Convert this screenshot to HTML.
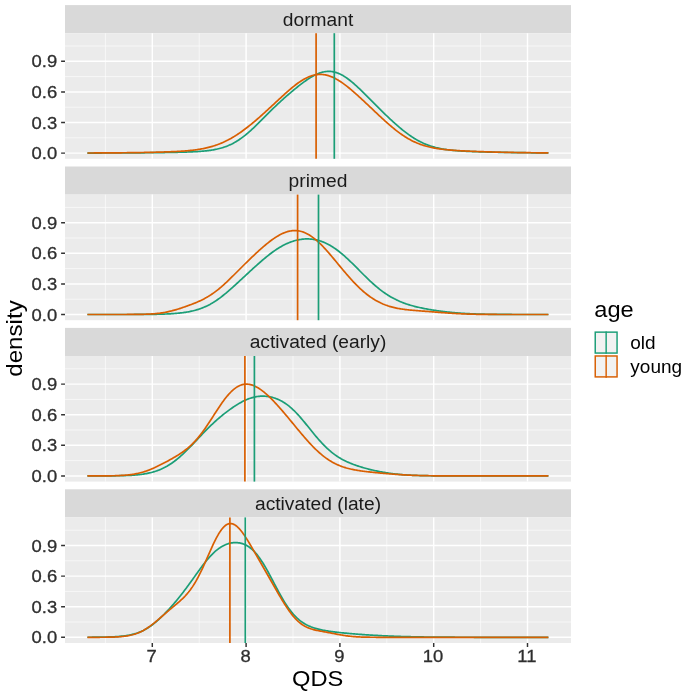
<!DOCTYPE html>
<html lang="en"><head><meta charset="utf-8"><title>QDS density</title>
<style>html,body{margin:0;padding:0;background:#fff}svg{display:block}text{font-family:"Liberation Sans",Arial,Helvetica,sans-serif}text{paint-order:stroke fill}.ax{fill:#2E2E2E;stroke:#2E2E2E;stroke-width:0.3px;font-size:17.3px}.st{fill:#1A1A1A;stroke:none;font-size:19px}.ti{fill:#000;stroke:none;font-size:22.3px}.lg{fill:#000;stroke:none;font-size:18.2px}</style></head><body>
<svg width="685" height="697" viewBox="0 0 685 697">
<rect x="0" y="0" width="685" height="697" fill="#FFFFFF"/>
<rect x="65.0" y="5.10" width="506.0" height="28.10" fill="#D9D9D9"/>
<text class="st" text-anchor="middle" transform="translate(318.00,25.50) scale(1.012,1)" >dormant</text>
<rect x="65.0" y="33.20" width="506.0" height="125.60" fill="#EBEBEB"/>
<path d="M105.40,33.20V158.80M199.20,33.20V158.80M293.00,33.20V158.80M386.80,33.20V158.80M480.60,33.20V158.80M65.0,137.80H571.0M65.0,107.20H571.0M65.0,76.60H571.0M65.0,46.00H571.0" stroke="#FFFFFF" stroke-width="0.6" fill="none"/>
<path d="M152.30,33.20V158.80M246.10,33.20V158.80M339.90,33.20V158.80M433.70,33.20V158.80M527.50,33.20V158.80M65.0,153.10H571.0M65.0,122.50H571.0M65.0,91.90H571.0M65.0,61.30H571.0" stroke="#FFFFFF" stroke-width="1.45" fill="none"/>
<path d="M87.4,153.06 L88.4,153.05 L89.4,153.05 L90.4,153.05 L91.4,153.05 L92.4,153.05 L93.4,153.04 L94.4,153.04 L95.4,153.04 L96.4,153.04 L97.4,153.04 L98.4,153.03 L99.4,153.03 L100.4,153.03 L101.4,153.03 L102.4,153.02 L103.4,153.02 L104.4,153.02 L105.4,153.01 L106.4,153.01 L107.4,153.01 L108.4,153.00 L109.4,153.00 L110.4,153.00 L111.4,152.99 L112.4,152.99 L113.4,152.98 L114.4,152.98 L115.4,152.98 L116.4,152.97 L117.4,152.97 L118.4,152.96 L119.4,152.96 L120.4,152.95 L121.4,152.95 L122.4,152.94 L123.4,152.94 L124.4,152.93 L125.4,152.93 L126.4,152.92 L127.4,152.91 L128.4,152.91 L129.4,152.90 L130.4,152.89 L131.4,152.89 L132.4,152.88 L133.4,152.87 L134.4,152.87 L135.4,152.86 L136.4,152.85 L137.4,152.84 L138.4,152.83 L139.4,152.83 L140.4,152.82 L141.4,152.81 L142.4,152.80 L143.4,152.79 L144.4,152.78 L145.4,152.77 L146.4,152.76 L147.4,152.75 L148.4,152.74 L149.4,152.73 L150.4,152.72 L151.4,152.71 L152.4,152.69 L153.4,152.68 L154.4,152.67 L155.4,152.66 L156.4,152.64 L157.4,152.63 L158.4,152.62 L159.4,152.60 L160.4,152.59 L161.4,152.57 L162.4,152.56 L163.4,152.54 L164.4,152.53 L165.4,152.51 L166.4,152.49 L167.4,152.48 L168.4,152.46 L169.4,152.44 L170.4,152.42 L171.4,152.40 L172.4,152.38 L173.4,152.36 L174.4,152.34 L175.4,152.32 L176.4,152.30 L177.4,152.28 L178.4,152.25 L179.4,152.23 L180.4,152.20 L181.4,152.18 L182.4,152.15 L183.4,152.12 L184.4,152.09 L185.4,152.06 L186.4,152.03 L187.4,151.99 L188.4,151.96 L189.4,151.92 L190.4,151.88 L191.4,151.84 L192.4,151.80 L193.4,151.75 L194.4,151.70 L195.4,151.65 L196.4,151.60 L197.4,151.54 L198.4,151.48 L199.4,151.41 L200.4,151.34 L201.4,151.26 L202.4,151.18 L203.4,151.10 L204.4,151.00 L205.4,150.90 L206.4,150.80 L207.4,150.69 L208.4,150.57 L209.4,150.44 L210.4,150.30 L211.4,150.15 L212.4,149.99 L213.4,149.82 L214.4,149.64 L215.4,149.45 L216.4,149.24 L217.4,149.02 L218.4,148.79 L219.4,148.54 L220.4,148.28 L221.4,148.00 L222.4,147.70 L223.4,147.39 L224.4,147.05 L225.4,146.70 L226.4,146.33 L227.4,145.94 L228.4,145.52 L229.4,145.09 L230.4,144.63 L231.4,144.16 L232.4,143.66 L233.4,143.13 L234.4,142.59 L235.4,142.02 L236.4,141.42 L237.4,140.81 L238.4,140.17 L239.4,139.50 L240.4,138.82 L241.4,138.11 L242.4,137.38 L243.4,136.62 L244.4,135.85 L245.4,135.05 L246.4,134.23 L247.4,133.40 L248.4,132.54 L249.4,131.67 L250.4,130.78 L251.4,129.87 L252.4,128.95 L253.4,128.02 L254.4,127.07 L255.4,126.12 L256.4,125.15 L257.4,124.17 L258.4,123.18 L259.4,122.19 L260.4,121.20 L261.4,120.19 L262.4,119.19 L263.4,118.18 L264.4,117.18 L265.4,116.17 L266.4,115.17 L267.4,114.16 L268.4,113.16 L269.4,112.17 L270.4,111.17 L271.4,110.19 L272.4,109.21 L273.4,108.23 L274.4,107.26 L275.4,106.30 L276.4,105.35 L277.4,104.40 L278.4,103.46 L279.4,102.53 L280.4,101.61 L281.4,100.69 L282.4,99.78 L283.4,98.88 L284.4,97.99 L285.4,97.10 L286.4,96.22 L287.4,95.35 L288.4,94.49 L289.4,93.63 L290.4,92.78 L291.4,91.93 L292.4,91.09 L293.4,90.26 L294.4,89.44 L295.4,88.62 L296.4,87.81 L297.4,87.01 L298.4,86.21 L299.4,85.43 L300.4,84.65 L301.4,83.89 L302.4,83.14 L303.4,82.39 L304.4,81.66 L305.4,80.95 L306.4,80.25 L307.4,79.57 L308.4,78.90 L309.4,78.25 L310.4,77.62 L311.4,77.02 L312.4,76.44 L313.4,75.88 L314.4,75.35 L315.4,74.84 L316.4,74.37 L317.4,73.92 L318.4,73.51 L319.4,73.12 L320.4,72.78 L321.4,72.47 L322.4,72.19 L323.4,71.96 L324.4,71.76 L325.4,71.60 L326.4,71.48 L327.4,71.41 L328.4,71.37 L329.4,71.38 L330.4,71.43 L331.4,71.52 L332.4,71.66 L333.4,71.83 L334.4,72.05 L335.4,72.32 L336.4,72.62 L337.4,72.97 L338.4,73.35 L339.4,73.78 L340.4,74.24 L341.4,74.74 L342.4,75.28 L343.4,75.86 L344.4,76.47 L345.4,77.11 L346.4,77.78 L347.4,78.48 L348.4,79.22 L349.4,79.98 L350.4,80.76 L351.4,81.57 L352.4,82.40 L353.4,83.25 L354.4,84.13 L355.4,85.02 L356.4,85.92 L357.4,86.85 L358.4,87.78 L359.4,88.73 L360.4,89.69 L361.4,90.66 L362.4,91.63 L363.4,92.62 L364.4,93.61 L365.4,94.60 L366.4,95.60 L367.4,96.61 L368.4,97.61 L369.4,98.62 L370.4,99.63 L371.4,100.64 L372.4,101.65 L373.4,102.66 L374.4,103.66 L375.4,104.67 L376.4,105.67 L377.4,106.67 L378.4,107.67 L379.4,108.66 L380.4,109.65 L381.4,110.64 L382.4,111.62 L383.4,112.60 L384.4,113.57 L385.4,114.54 L386.4,115.50 L387.4,116.45 L388.4,117.40 L389.4,118.34 L390.4,119.28 L391.4,120.21 L392.4,121.13 L393.4,122.04 L394.4,122.94 L395.4,123.84 L396.4,124.72 L397.4,125.60 L398.4,126.46 L399.4,127.31 L400.4,128.15 L401.4,128.98 L402.4,129.80 L403.4,130.60 L404.4,131.39 L405.4,132.16 L406.4,132.92 L407.4,133.67 L408.4,134.40 L409.4,135.11 L410.4,135.81 L411.4,136.49 L412.4,137.15 L413.4,137.79 L414.4,138.42 L415.4,139.03 L416.4,139.62 L417.4,140.19 L418.4,140.74 L419.4,141.28 L420.4,141.80 L421.4,142.29 L422.4,142.77 L423.4,143.24 L424.4,143.68 L425.4,144.11 L426.4,144.52 L427.4,144.91 L428.4,145.28 L429.4,145.64 L430.4,145.98 L431.4,146.31 L432.4,146.62 L433.4,146.91 L434.4,147.19 L435.4,147.46 L436.4,147.71 L437.4,147.95 L438.4,148.18 L439.4,148.40 L440.4,148.60 L441.4,148.79 L442.4,148.97 L443.4,149.15 L444.4,149.31 L445.4,149.46 L446.4,149.61 L447.4,149.74 L448.4,149.87 L449.4,149.99 L450.4,150.11 L451.4,150.22 L452.4,150.32 L453.4,150.42 L454.4,150.51 L455.4,150.59 L456.4,150.68 L457.4,150.75 L458.4,150.83 L459.4,150.90 L460.4,150.96 L461.4,151.03 L462.4,151.09 L463.4,151.14 L464.4,151.20 L465.4,151.25 L466.4,151.30 L467.4,151.35 L468.4,151.39 L469.4,151.44 L470.4,151.48 L471.4,151.52 L472.4,151.56 L473.4,151.60 L474.4,151.64 L475.4,151.67 L476.4,151.71 L477.4,151.74 L478.4,151.77 L479.4,151.81 L480.4,151.84 L481.4,151.87 L482.4,151.90 L483.4,151.93 L484.4,151.95 L485.4,151.98 L486.4,152.01 L487.4,152.03 L488.4,152.06 L489.4,152.09 L490.4,152.11 L491.4,152.13 L492.4,152.16 L493.4,152.18 L494.4,152.20 L495.4,152.23 L496.4,152.25 L497.4,152.27 L498.4,152.29 L499.4,152.31 L500.4,152.33 L501.4,152.35 L502.4,152.37 L503.4,152.39 L504.4,152.41 L505.4,152.42 L506.4,152.44 L507.4,152.46 L508.4,152.48 L509.4,152.49 L510.4,152.51 L511.4,152.53 L512.4,152.54 L513.4,152.56 L514.4,152.57 L515.4,152.59 L516.4,152.60 L517.4,152.61 L518.4,152.63 L519.4,152.64 L520.4,152.65 L521.4,152.67 L522.4,152.68 L523.4,152.69 L524.4,152.70 L525.4,152.71 L526.4,152.73 L527.4,152.74 L528.4,152.75 L529.4,152.76 L530.4,152.77 L531.4,152.78 L532.4,152.79 L533.4,152.80 L534.4,152.81 L535.4,152.81 L536.4,152.82 L537.4,152.83 L538.4,152.84 L539.4,152.85 L540.4,152.86 L541.4,152.86 L542.4,152.87 L543.4,152.88 L544.4,152.89 L545.4,152.89 L546.4,152.90 L547.4,152.91 L548.4,152.91" stroke="#1B9E77" stroke-width="1.7" fill="none" stroke-linejoin="round"/>
<path d="M87.4,153.00 L88.4,153.00 L89.4,152.99 L90.4,152.99 L91.4,152.98 L92.4,152.98 L93.4,152.98 L94.4,152.97 L95.4,152.97 L96.4,152.96 L97.4,152.96 L98.4,152.95 L99.4,152.95 L100.4,152.94 L101.4,152.94 L102.4,152.93 L103.4,152.92 L104.4,152.92 L105.4,152.91 L106.4,152.90 L107.4,152.90 L108.4,152.89 L109.4,152.88 L110.4,152.88 L111.4,152.87 L112.4,152.86 L113.4,152.85 L114.4,152.85 L115.4,152.84 L116.4,152.83 L117.4,152.82 L118.4,152.81 L119.4,152.80 L120.4,152.79 L121.4,152.78 L122.4,152.77 L123.4,152.76 L124.4,152.75 L125.4,152.74 L126.4,152.73 L127.4,152.71 L128.4,152.70 L129.4,152.69 L130.4,152.68 L131.4,152.66 L132.4,152.65 L133.4,152.64 L134.4,152.62 L135.4,152.61 L136.4,152.59 L137.4,152.58 L138.4,152.56 L139.4,152.55 L140.4,152.53 L141.4,152.51 L142.4,152.50 L143.4,152.48 L144.4,152.46 L145.4,152.44 L146.4,152.42 L147.4,152.40 L148.4,152.38 L149.4,152.36 L150.4,152.34 L151.4,152.32 L152.4,152.30 L153.4,152.28 L154.4,152.25 L155.4,152.23 L156.4,152.20 L157.4,152.18 L158.4,152.15 L159.4,152.12 L160.4,152.09 L161.4,152.07 L162.4,152.04 L163.4,152.00 L164.4,151.97 L165.4,151.94 L166.4,151.91 L167.4,151.87 L168.4,151.83 L169.4,151.79 L170.4,151.75 L171.4,151.71 L172.4,151.67 L173.4,151.63 L174.4,151.58 L175.4,151.53 L176.4,151.48 L177.4,151.43 L178.4,151.37 L179.4,151.31 L180.4,151.25 L181.4,151.19 L182.4,151.12 L183.4,151.05 L184.4,150.98 L185.4,150.90 L186.4,150.82 L187.4,150.73 L188.4,150.64 L189.4,150.55 L190.4,150.45 L191.4,150.34 L192.4,150.23 L193.4,150.11 L194.4,149.99 L195.4,149.86 L196.4,149.73 L197.4,149.58 L198.4,149.43 L199.4,149.27 L200.4,149.11 L201.4,148.93 L202.4,148.75 L203.4,148.56 L204.4,148.35 L205.4,148.14 L206.4,147.92 L207.4,147.68 L208.4,147.44 L209.4,147.18 L210.4,146.92 L211.4,146.64 L212.4,146.34 L213.4,146.04 L214.4,145.72 L215.4,145.39 L216.4,145.05 L217.4,144.69 L218.4,144.32 L219.4,143.93 L220.4,143.53 L221.4,143.12 L222.4,142.69 L223.4,142.24 L224.4,141.78 L225.4,141.31 L226.4,140.82 L227.4,140.31 L228.4,139.80 L229.4,139.26 L230.4,138.71 L231.4,138.15 L232.4,137.57 L233.4,136.98 L234.4,136.37 L235.4,135.74 L236.4,135.11 L237.4,134.46 L238.4,133.79 L239.4,133.12 L240.4,132.43 L241.4,131.72 L242.4,131.01 L243.4,130.28 L244.4,129.54 L245.4,128.79 L246.4,128.03 L247.4,127.26 L248.4,126.47 L249.4,125.68 L250.4,124.88 L251.4,124.07 L252.4,123.24 L253.4,122.41 L254.4,121.58 L255.4,120.73 L256.4,119.88 L257.4,119.01 L258.4,118.15 L259.4,117.27 L260.4,116.39 L261.4,115.50 L262.4,114.61 L263.4,113.71 L264.4,112.81 L265.4,111.90 L266.4,110.99 L267.4,110.08 L268.4,109.16 L269.4,108.24 L270.4,107.31 L271.4,106.38 L272.4,105.46 L273.4,104.53 L274.4,103.59 L275.4,102.66 L276.4,101.73 L277.4,100.80 L278.4,99.87 L279.4,98.94 L280.4,98.02 L281.4,97.10 L282.4,96.18 L283.4,95.27 L284.4,94.36 L285.4,93.46 L286.4,92.57 L287.4,91.68 L288.4,90.81 L289.4,89.94 L290.4,89.09 L291.4,88.25 L292.4,87.42 L293.4,86.61 L294.4,85.81 L295.4,85.03 L296.4,84.27 L297.4,83.53 L298.4,82.81 L299.4,82.11 L300.4,81.44 L301.4,80.79 L302.4,80.16 L303.4,79.56 L304.4,78.99 L305.4,78.45 L306.4,77.94 L307.4,77.46 L308.4,77.01 L309.4,76.59 L310.4,76.21 L311.4,75.87 L312.4,75.55 L313.4,75.28 L314.4,75.04 L315.4,74.84 L316.4,74.67 L317.4,74.54 L318.4,74.45 L319.4,74.40 L320.4,74.39 L321.4,74.42 L322.4,74.48 L323.4,74.58 L324.4,74.72 L325.4,74.90 L326.4,75.11 L327.4,75.36 L328.4,75.65 L329.4,75.97 L330.4,76.33 L331.4,76.71 L332.4,77.14 L333.4,77.59 L334.4,78.07 L335.4,78.59 L336.4,79.13 L337.4,79.70 L338.4,80.29 L339.4,80.92 L340.4,81.56 L341.4,82.23 L342.4,82.92 L343.4,83.63 L344.4,84.36 L345.4,85.11 L346.4,85.88 L347.4,86.67 L348.4,87.46 L349.4,88.28 L350.4,89.10 L351.4,89.94 L352.4,90.79 L353.4,91.66 L354.4,92.53 L355.4,93.41 L356.4,94.30 L357.4,95.19 L358.4,96.10 L359.4,97.01 L360.4,97.92 L361.4,98.84 L362.4,99.77 L363.4,100.70 L364.4,101.63 L365.4,102.57 L366.4,103.51 L367.4,104.45 L368.4,105.39 L369.4,106.34 L370.4,107.28 L371.4,108.23 L372.4,109.17 L373.4,110.12 L374.4,111.07 L375.4,112.01 L376.4,112.96 L377.4,113.90 L378.4,114.83 L379.4,115.77 L380.4,116.70 L381.4,117.63 L382.4,118.55 L383.4,119.47 L384.4,120.38 L385.4,121.28 L386.4,122.18 L387.4,123.06 L388.4,123.94 L389.4,124.81 L390.4,125.67 L391.4,126.52 L392.4,127.36 L393.4,128.18 L394.4,129.00 L395.4,129.80 L396.4,130.58 L397.4,131.35 L398.4,132.11 L399.4,132.85 L400.4,133.57 L401.4,134.28 L402.4,134.97 L403.4,135.65 L404.4,136.30 L405.4,136.94 L406.4,137.56 L407.4,138.16 L408.4,138.75 L409.4,139.31 L410.4,139.86 L411.4,140.39 L412.4,140.90 L413.4,141.39 L414.4,141.86 L415.4,142.32 L416.4,142.76 L417.4,143.18 L418.4,143.58 L419.4,143.97 L420.4,144.34 L421.4,144.69 L422.4,145.03 L423.4,145.36 L424.4,145.67 L425.4,145.96 L426.4,146.24 L427.4,146.51 L428.4,146.76 L429.4,147.00 L430.4,147.23 L431.4,147.45 L432.4,147.66 L433.4,147.85 L434.4,148.04 L435.4,148.22 L436.4,148.39 L437.4,148.55 L438.4,148.70 L439.4,148.85 L440.4,148.98 L441.4,149.11 L442.4,149.24 L443.4,149.36 L444.4,149.47 L445.4,149.57 L446.4,149.68 L447.4,149.77 L448.4,149.87 L449.4,149.96 L450.4,150.04 L451.4,150.12 L452.4,150.20 L453.4,150.28 L454.4,150.35 L455.4,150.42 L456.4,150.49 L457.4,150.55 L458.4,150.61 L459.4,150.67 L460.4,150.73 L461.4,150.79 L462.4,150.84 L463.4,150.90 L464.4,150.95 L465.4,151.00 L466.4,151.05 L467.4,151.09 L468.4,151.14 L469.4,151.19 L470.4,151.23 L471.4,151.27 L472.4,151.32 L473.4,151.36 L474.4,151.40 L475.4,151.44 L476.4,151.48 L477.4,151.51 L478.4,151.55 L479.4,151.59 L480.4,151.62 L481.4,151.66 L482.4,151.69 L483.4,151.72 L484.4,151.76 L485.4,151.79 L486.4,151.82 L487.4,151.85 L488.4,151.88 L489.4,151.91 L490.4,151.94 L491.4,151.97 L492.4,152.00 L493.4,152.03 L494.4,152.05 L495.4,152.08 L496.4,152.10 L497.4,152.13 L498.4,152.15 L499.4,152.18 L500.4,152.20 L501.4,152.23 L502.4,152.25 L503.4,152.27 L504.4,152.29 L505.4,152.31 L506.4,152.34 L507.4,152.36 L508.4,152.38 L509.4,152.40 L510.4,152.42 L511.4,152.43 L512.4,152.45 L513.4,152.47 L514.4,152.49 L515.4,152.51 L516.4,152.52 L517.4,152.54 L518.4,152.55 L519.4,152.57 L520.4,152.59 L521.4,152.60 L522.4,152.61 L523.4,152.63 L524.4,152.64 L525.4,152.66 L526.4,152.67 L527.4,152.68 L528.4,152.69 L529.4,152.71 L530.4,152.72 L531.4,152.73 L532.4,152.74 L533.4,152.75 L534.4,152.76 L535.4,152.77 L536.4,152.78 L537.4,152.79 L538.4,152.80 L539.4,152.81 L540.4,152.82 L541.4,152.83 L542.4,152.84 L543.4,152.85 L544.4,152.86 L545.4,152.86 L546.4,152.87 L547.4,152.88 L548.4,152.89" stroke="#D95F02" stroke-width="1.7" fill="none" stroke-linejoin="round"/>
<path d="M334.30,33.20V158.80" stroke="#1B9E77" stroke-width="1.7" fill="none"/>
<path d="M316.10,33.20V158.80" stroke="#D95F02" stroke-width="1.7" fill="none"/>
<text class="ax" text-anchor="end" transform="translate(57.20,159.15) scale(1.065,1)" >0.0</text>
<text class="ax" text-anchor="end" transform="translate(57.20,128.55) scale(1.065,1)" >0.3</text>
<text class="ax" text-anchor="end" transform="translate(57.20,97.95) scale(1.065,1)" >0.6</text>
<text class="ax" text-anchor="end" transform="translate(57.20,67.35) scale(1.065,1)" >0.9</text>
<path d="M61.10,153.10H65.0M61.10,122.50H65.0M61.10,91.90H65.0M61.10,61.30H65.0" stroke="#333333" stroke-width="1.45" fill="none"/>
<rect x="65.0" y="166.50" width="506.0" height="28.10" fill="#D9D9D9"/>
<text class="st" text-anchor="middle" transform="translate(318.00,186.90) scale(1.012,1)" >primed</text>
<rect x="65.0" y="194.60" width="506.0" height="125.60" fill="#EBEBEB"/>
<path d="M105.40,194.60V320.20M199.20,194.60V320.20M293.00,194.60V320.20M386.80,194.60V320.20M480.60,194.60V320.20M65.0,299.20H571.0M65.0,268.60H571.0M65.0,238.00H571.0M65.0,207.40H571.0" stroke="#FFFFFF" stroke-width="0.6" fill="none"/>
<path d="M152.30,194.60V320.20M246.10,194.60V320.20M339.90,194.60V320.20M433.70,194.60V320.20M527.50,194.60V320.20M65.0,314.50H571.0M65.0,283.90H571.0M65.0,253.30H571.0M65.0,222.70H571.0" stroke="#FFFFFF" stroke-width="1.45" fill="none"/>
<path d="M87.4,314.50 L88.4,314.50 L89.4,314.50 L90.4,314.50 L91.4,314.50 L92.4,314.50 L93.4,314.50 L94.4,314.50 L95.4,314.50 L96.4,314.50 L97.4,314.50 L98.4,314.50 L99.4,314.50 L100.4,314.50 L101.4,314.50 L102.4,314.50 L103.4,314.50 L104.4,314.50 L105.4,314.50 L106.4,314.50 L107.4,314.50 L108.4,314.50 L109.4,314.50 L110.4,314.50 L111.4,314.50 L112.4,314.50 L113.4,314.50 L114.4,314.50 L115.4,314.50 L116.4,314.50 L117.4,314.50 L118.4,314.50 L119.4,314.50 L120.4,314.49 L121.4,314.49 L122.4,314.49 L123.4,314.49 L124.4,314.49 L125.4,314.49 L126.4,314.49 L127.4,314.49 L128.4,314.49 L129.4,314.48 L130.4,314.48 L131.4,314.48 L132.4,314.48 L133.4,314.48 L134.4,314.47 L135.4,314.47 L136.4,314.47 L137.4,314.46 L138.4,314.46 L139.4,314.46 L140.4,314.45 L141.4,314.45 L142.4,314.44 L143.4,314.44 L144.4,314.43 L145.4,314.42 L146.4,314.41 L147.4,314.40 L148.4,314.39 L149.4,314.38 L150.4,314.37 L151.4,314.36 L152.4,314.35 L153.4,314.33 L154.4,314.32 L155.4,314.30 L156.4,314.28 L157.4,314.26 L158.4,314.24 L159.4,314.21 L160.4,314.19 L161.4,314.16 L162.4,314.13 L163.4,314.10 L164.4,314.06 L165.4,314.02 L166.4,313.98 L167.4,313.94 L168.4,313.89 L169.4,313.84 L170.4,313.78 L171.4,313.72 L172.4,313.66 L173.4,313.59 L174.4,313.52 L175.4,313.44 L176.4,313.36 L177.4,313.27 L178.4,313.17 L179.4,313.07 L180.4,312.96 L181.4,312.84 L182.4,312.72 L183.4,312.59 L184.4,312.45 L185.4,312.30 L186.4,312.14 L187.4,311.97 L188.4,311.79 L189.4,311.61 L190.4,311.40 L191.4,311.19 L192.4,310.97 L193.4,310.73 L194.4,310.47 L195.4,310.21 L196.4,309.93 L197.4,309.63 L198.4,309.32 L199.4,308.99 L200.4,308.64 L201.4,308.28 L202.4,307.89 L203.4,307.49 L204.4,307.07 L205.4,306.63 L206.4,306.17 L207.4,305.69 L208.4,305.19 L209.4,304.67 L210.4,304.13 L211.4,303.56 L212.4,302.98 L213.4,302.37 L214.4,301.75 L215.4,301.10 L216.4,300.43 L217.4,299.75 L218.4,299.04 L219.4,298.32 L220.4,297.57 L221.4,296.81 L222.4,296.04 L223.4,295.24 L224.4,294.44 L225.4,293.61 L226.4,292.78 L227.4,291.93 L228.4,291.08 L229.4,290.21 L230.4,289.33 L231.4,288.44 L232.4,287.55 L233.4,286.65 L234.4,285.75 L235.4,284.84 L236.4,283.92 L237.4,283.00 L238.4,282.08 L239.4,281.16 L240.4,280.23 L241.4,279.31 L242.4,278.38 L243.4,277.45 L244.4,276.52 L245.4,275.60 L246.4,274.67 L247.4,273.75 L248.4,272.82 L249.4,271.90 L250.4,270.98 L251.4,270.06 L252.4,269.15 L253.4,268.24 L254.4,267.33 L255.4,266.43 L256.4,265.53 L257.4,264.63 L258.4,263.75 L259.4,262.86 L260.4,261.99 L261.4,261.12 L262.4,260.26 L263.4,259.41 L264.4,258.57 L265.4,257.74 L266.4,256.92 L267.4,256.11 L268.4,255.31 L269.4,254.53 L270.4,253.76 L271.4,253.01 L272.4,252.27 L273.4,251.55 L274.4,250.84 L275.4,250.15 L276.4,249.48 L277.4,248.82 L278.4,248.19 L279.4,247.57 L280.4,246.98 L281.4,246.40 L282.4,245.84 L283.4,245.30 L284.4,244.79 L285.4,244.29 L286.4,243.82 L287.4,243.37 L288.4,242.93 L289.4,242.52 L290.4,242.14 L291.4,241.77 L292.4,241.43 L293.4,241.10 L294.4,240.80 L295.4,240.52 L296.4,240.27 L297.4,240.03 L298.4,239.82 L299.4,239.63 L300.4,239.47 L301.4,239.32 L302.4,239.20 L303.4,239.10 L304.4,239.02 L305.4,238.97 L306.4,238.94 L307.4,238.93 L308.4,238.95 L309.4,238.99 L310.4,239.05 L311.4,239.14 L312.4,239.25 L313.4,239.39 L314.4,239.55 L315.4,239.74 L316.4,239.95 L317.4,240.18 L318.4,240.44 L319.4,240.73 L320.4,241.04 L321.4,241.38 L322.4,241.74 L323.4,242.13 L324.4,242.54 L325.4,242.98 L326.4,243.45 L327.4,243.94 L328.4,244.46 L329.4,245.00 L330.4,245.57 L331.4,246.16 L332.4,246.78 L333.4,247.42 L334.4,248.09 L335.4,248.78 L336.4,249.49 L337.4,250.23 L338.4,250.99 L339.4,251.77 L340.4,252.57 L341.4,253.39 L342.4,254.23 L343.4,255.08 L344.4,255.96 L345.4,256.85 L346.4,257.76 L347.4,258.68 L348.4,259.62 L349.4,260.57 L350.4,261.53 L351.4,262.50 L352.4,263.48 L353.4,264.46 L354.4,265.46 L355.4,266.45 L356.4,267.46 L357.4,268.46 L358.4,269.47 L359.4,270.48 L360.4,271.48 L361.4,272.49 L362.4,273.49 L363.4,274.49 L364.4,275.48 L365.4,276.47 L366.4,277.45 L367.4,278.42 L368.4,279.38 L369.4,280.32 L370.4,281.26 L371.4,282.19 L372.4,283.10 L373.4,284.00 L374.4,284.88 L375.4,285.75 L376.4,286.60 L377.4,287.44 L378.4,288.25 L379.4,289.05 L380.4,289.84 L381.4,290.60 L382.4,291.35 L383.4,292.08 L384.4,292.79 L385.4,293.48 L386.4,294.15 L387.4,294.80 L388.4,295.44 L389.4,296.05 L390.4,296.65 L391.4,297.23 L392.4,297.79 L393.4,298.33 L394.4,298.86 L395.4,299.36 L396.4,299.86 L397.4,300.33 L398.4,300.79 L399.4,301.23 L400.4,301.66 L401.4,302.07 L402.4,302.47 L403.4,302.86 L404.4,303.23 L405.4,303.59 L406.4,303.93 L407.4,304.27 L408.4,304.59 L409.4,304.90 L410.4,305.20 L411.4,305.49 L412.4,305.78 L413.4,306.05 L414.4,306.31 L415.4,306.57 L416.4,306.82 L417.4,307.06 L418.4,307.29 L419.4,307.52 L420.4,307.74 L421.4,307.95 L422.4,308.16 L423.4,308.36 L424.4,308.56 L425.4,308.75 L426.4,308.94 L427.4,309.12 L428.4,309.30 L429.4,309.48 L430.4,309.65 L431.4,309.81 L432.4,309.97 L433.4,310.13 L434.4,310.29 L435.4,310.44 L436.4,310.58 L437.4,310.73 L438.4,310.87 L439.4,311.01 L440.4,311.14 L441.4,311.27 L442.4,311.40 L443.4,311.52 L444.4,311.64 L445.4,311.76 L446.4,311.88 L447.4,311.99 L448.4,312.10 L449.4,312.20 L450.4,312.30 L451.4,312.40 L452.4,312.50 L453.4,312.59 L454.4,312.68 L455.4,312.77 L456.4,312.86 L457.4,312.94 L458.4,313.02 L459.4,313.09 L460.4,313.17 L461.4,313.24 L462.4,313.30 L463.4,313.37 L464.4,313.43 L465.4,313.49 L466.4,313.55 L467.4,313.60 L468.4,313.66 L469.4,313.71 L470.4,313.75 L471.4,313.80 L472.4,313.84 L473.4,313.88 L474.4,313.92 L475.4,313.96 L476.4,314.00 L477.4,314.03 L478.4,314.06 L479.4,314.09 L480.4,314.12 L481.4,314.14 L482.4,314.17 L483.4,314.19 L484.4,314.22 L485.4,314.24 L486.4,314.26 L487.4,314.27 L488.4,314.29 L489.4,314.31 L490.4,314.32 L491.4,314.34 L492.4,314.35 L493.4,314.36 L494.4,314.37 L495.4,314.38 L496.4,314.39 L497.4,314.40 L498.4,314.41 L499.4,314.42 L500.4,314.42 L501.4,314.43 L502.4,314.44 L503.4,314.44 L504.4,314.45 L505.4,314.45 L506.4,314.46 L507.4,314.46 L508.4,314.46 L509.4,314.47 L510.4,314.47 L511.4,314.47 L512.4,314.48 L513.4,314.48 L514.4,314.48 L515.4,314.48 L516.4,314.48 L517.4,314.49 L518.4,314.49 L519.4,314.49 L520.4,314.49 L521.4,314.49 L522.4,314.49 L523.4,314.49 L524.4,314.49 L525.4,314.49 L526.4,314.49 L527.4,314.50 L528.4,314.50 L529.4,314.50 L530.4,314.50 L531.4,314.50 L532.4,314.50 L533.4,314.50 L534.4,314.50 L535.4,314.50 L536.4,314.50 L537.4,314.50 L538.4,314.50 L539.4,314.50 L540.4,314.50 L541.4,314.50 L542.4,314.50 L543.4,314.50 L544.4,314.50 L545.4,314.50 L546.4,314.50 L547.4,314.50 L548.4,314.50" stroke="#1B9E77" stroke-width="1.7" fill="none" stroke-linejoin="round"/>
<path d="M87.4,314.50 L88.4,314.50 L89.4,314.50 L90.4,314.50 L91.4,314.50 L92.4,314.50 L93.4,314.50 L94.4,314.50 L95.4,314.50 L96.4,314.50 L97.4,314.50 L98.4,314.50 L99.4,314.50 L100.4,314.50 L101.4,314.50 L102.4,314.50 L103.4,314.50 L104.4,314.50 L105.4,314.50 L106.4,314.50 L107.4,314.50 L108.4,314.50 L109.4,314.50 L110.4,314.50 L111.4,314.50 L112.4,314.50 L113.4,314.50 L114.4,314.49 L115.4,314.49 L116.4,314.49 L117.4,314.49 L118.4,314.49 L119.4,314.49 L120.4,314.49 L121.4,314.49 L122.4,314.49 L123.4,314.48 L124.4,314.48 L125.4,314.48 L126.4,314.48 L127.4,314.47 L128.4,314.47 L129.4,314.47 L130.4,314.46 L131.4,314.46 L132.4,314.45 L133.4,314.44 L134.4,314.44 L135.4,314.43 L136.4,314.42 L137.4,314.41 L138.4,314.39 L139.4,314.38 L140.4,314.36 L141.4,314.34 L142.4,314.32 L143.4,314.30 L144.4,314.27 L145.4,314.24 L146.4,314.20 L147.4,314.17 L148.4,314.12 L149.4,314.07 L150.4,314.02 L151.4,313.96 L152.4,313.90 L153.4,313.83 L154.4,313.75 L155.4,313.66 L156.4,313.56 L157.4,313.46 L158.4,313.35 L159.4,313.23 L160.4,313.10 L161.4,312.95 L162.4,312.80 L163.4,312.64 L164.4,312.47 L165.4,312.28 L166.4,312.09 L167.4,311.88 L168.4,311.67 L169.4,311.44 L170.4,311.20 L171.4,310.95 L172.4,310.69 L173.4,310.43 L174.4,310.15 L175.4,309.86 L176.4,309.57 L177.4,309.27 L178.4,308.96 L179.4,308.64 L180.4,308.32 L181.4,307.99 L182.4,307.65 L183.4,307.31 L184.4,306.97 L185.4,306.62 L186.4,306.26 L187.4,305.90 L188.4,305.54 L189.4,305.17 L190.4,304.80 L191.4,304.42 L192.4,304.03 L193.4,303.64 L194.4,303.24 L195.4,302.84 L196.4,302.42 L197.4,302.00 L198.4,301.56 L199.4,301.11 L200.4,300.65 L201.4,300.18 L202.4,299.69 L203.4,299.18 L204.4,298.66 L205.4,298.12 L206.4,297.57 L207.4,296.99 L208.4,296.39 L209.4,295.78 L210.4,295.14 L211.4,294.48 L212.4,293.80 L213.4,293.10 L214.4,292.38 L215.4,291.64 L216.4,290.88 L217.4,290.10 L218.4,289.29 L219.4,288.47 L220.4,287.63 L221.4,286.78 L222.4,285.90 L223.4,285.01 L224.4,284.11 L225.4,283.19 L226.4,282.26 L227.4,281.32 L228.4,280.37 L229.4,279.41 L230.4,278.44 L231.4,277.46 L232.4,276.48 L233.4,275.49 L234.4,274.50 L235.4,273.51 L236.4,272.51 L237.4,271.51 L238.4,270.51 L239.4,269.50 L240.4,268.50 L241.4,267.50 L242.4,266.50 L243.4,265.51 L244.4,264.51 L245.4,263.52 L246.4,262.54 L247.4,261.55 L248.4,260.58 L249.4,259.60 L250.4,258.63 L251.4,257.67 L252.4,256.71 L253.4,255.76 L254.4,254.82 L255.4,253.88 L256.4,252.95 L257.4,252.03 L258.4,251.11 L259.4,250.21 L260.4,249.31 L261.4,248.43 L262.4,247.55 L263.4,246.69 L264.4,245.83 L265.4,245.00 L266.4,244.17 L267.4,243.36 L268.4,242.56 L269.4,241.78 L270.4,241.02 L271.4,240.27 L272.4,239.55 L273.4,238.84 L274.4,238.15 L275.4,237.49 L276.4,236.85 L277.4,236.24 L278.4,235.65 L279.4,235.08 L280.4,234.55 L281.4,234.04 L282.4,233.57 L283.4,233.12 L284.4,232.71 L285.4,232.33 L286.4,231.99 L287.4,231.68 L288.4,231.41 L289.4,231.17 L290.4,230.98 L291.4,230.82 L292.4,230.70 L293.4,230.62 L294.4,230.59 L295.4,230.59 L296.4,230.64 L297.4,230.73 L298.4,230.86 L299.4,231.03 L300.4,231.25 L301.4,231.51 L302.4,231.81 L303.4,232.15 L304.4,232.54 L305.4,232.97 L306.4,233.44 L307.4,233.95 L308.4,234.50 L309.4,235.09 L310.4,235.72 L311.4,236.39 L312.4,237.10 L313.4,237.84 L314.4,238.62 L315.4,239.43 L316.4,240.27 L317.4,241.15 L318.4,242.06 L319.4,243.00 L320.4,243.96 L321.4,244.95 L322.4,245.97 L323.4,247.01 L324.4,248.07 L325.4,249.16 L326.4,250.26 L327.4,251.38 L328.4,252.52 L329.4,253.67 L330.4,254.83 L331.4,256.01 L332.4,257.20 L333.4,258.39 L334.4,259.59 L335.4,260.80 L336.4,262.01 L337.4,263.22 L338.4,264.43 L339.4,265.64 L340.4,266.85 L341.4,268.06 L342.4,269.26 L343.4,270.46 L344.4,271.64 L345.4,272.82 L346.4,273.99 L347.4,275.15 L348.4,276.30 L349.4,277.43 L350.4,278.55 L351.4,279.66 L352.4,280.75 L353.4,281.82 L354.4,282.88 L355.4,283.92 L356.4,284.94 L357.4,285.94 L358.4,286.92 L359.4,287.88 L360.4,288.81 L361.4,289.73 L362.4,290.63 L363.4,291.50 L364.4,292.35 L365.4,293.18 L366.4,293.98 L367.4,294.76 L368.4,295.52 L369.4,296.25 L370.4,296.97 L371.4,297.65 L372.4,298.32 L373.4,298.96 L374.4,299.58 L375.4,300.18 L376.4,300.75 L377.4,301.30 L378.4,301.83 L379.4,302.34 L380.4,302.83 L381.4,303.30 L382.4,303.74 L383.4,304.17 L384.4,304.57 L385.4,304.96 L386.4,305.32 L387.4,305.67 L388.4,306.01 L389.4,306.32 L390.4,306.62 L391.4,306.90 L392.4,307.17 L393.4,307.42 L394.4,307.66 L395.4,307.88 L396.4,308.10 L397.4,308.30 L398.4,308.48 L399.4,308.66 L400.4,308.83 L401.4,308.99 L402.4,309.14 L403.4,309.28 L404.4,309.41 L405.4,309.54 L406.4,309.66 L407.4,309.77 L408.4,309.88 L409.4,309.98 L410.4,310.08 L411.4,310.17 L412.4,310.26 L413.4,310.35 L414.4,310.44 L415.4,310.52 L416.4,310.60 L417.4,310.68 L418.4,310.76 L419.4,310.84 L420.4,310.91 L421.4,310.99 L422.4,311.07 L423.4,311.14 L424.4,311.22 L425.4,311.29 L426.4,311.37 L427.4,311.45 L428.4,311.52 L429.4,311.60 L430.4,311.68 L431.4,311.75 L432.4,311.83 L433.4,311.91 L434.4,311.99 L435.4,312.07 L436.4,312.15 L437.4,312.22 L438.4,312.30 L439.4,312.38 L440.4,312.46 L441.4,312.54 L442.4,312.61 L443.4,312.69 L444.4,312.76 L445.4,312.84 L446.4,312.91 L447.4,312.98 L448.4,313.05 L449.4,313.12 L450.4,313.19 L451.4,313.25 L452.4,313.32 L453.4,313.38 L454.4,313.44 L455.4,313.50 L456.4,313.56 L457.4,313.61 L458.4,313.66 L459.4,313.71 L460.4,313.76 L461.4,313.81 L462.4,313.85 L463.4,313.90 L464.4,313.94 L465.4,313.98 L466.4,314.01 L467.4,314.05 L468.4,314.08 L469.4,314.11 L470.4,314.14 L471.4,314.17 L472.4,314.19 L473.4,314.22 L474.4,314.24 L475.4,314.26 L476.4,314.28 L477.4,314.30 L478.4,314.32 L479.4,314.33 L480.4,314.35 L481.4,314.36 L482.4,314.37 L483.4,314.39 L484.4,314.40 L485.4,314.41 L486.4,314.42 L487.4,314.42 L488.4,314.43 L489.4,314.44 L490.4,314.44 L491.4,314.45 L492.4,314.46 L493.4,314.46 L494.4,314.46 L495.4,314.47 L496.4,314.47 L497.4,314.48 L498.4,314.48 L499.4,314.48 L500.4,314.48 L501.4,314.48 L502.4,314.49 L503.4,314.49 L504.4,314.49 L505.4,314.49 L506.4,314.49 L507.4,314.49 L508.4,314.49 L509.4,314.49 L510.4,314.50 L511.4,314.50 L512.4,314.50 L513.4,314.50 L514.4,314.50 L515.4,314.50 L516.4,314.50 L517.4,314.50 L518.4,314.50 L519.4,314.50 L520.4,314.50 L521.4,314.50 L522.4,314.50 L523.4,314.50 L524.4,314.50 L525.4,314.50 L526.4,314.50 L527.4,314.50 L528.4,314.50 L529.4,314.50 L530.4,314.50 L531.4,314.50 L532.4,314.50 L533.4,314.50 L534.4,314.50 L535.4,314.50 L536.4,314.50 L537.4,314.50 L538.4,314.50 L539.4,314.50 L540.4,314.50 L541.4,314.50 L542.4,314.50 L543.4,314.50 L544.4,314.50 L545.4,314.50 L546.4,314.50 L547.4,314.50 L548.4,314.50" stroke="#D95F02" stroke-width="1.7" fill="none" stroke-linejoin="round"/>
<path d="M318.50,194.60V320.20" stroke="#1B9E77" stroke-width="1.7" fill="none"/>
<path d="M297.60,194.60V320.20" stroke="#D95F02" stroke-width="1.7" fill="none"/>
<text class="ax" text-anchor="end" transform="translate(57.20,320.55) scale(1.065,1)" >0.0</text>
<text class="ax" text-anchor="end" transform="translate(57.20,289.95) scale(1.065,1)" >0.3</text>
<text class="ax" text-anchor="end" transform="translate(57.20,259.35) scale(1.065,1)" >0.6</text>
<text class="ax" text-anchor="end" transform="translate(57.20,228.75) scale(1.065,1)" >0.9</text>
<path d="M61.10,314.50H65.0M61.10,283.90H65.0M61.10,253.30H65.0M61.10,222.70H65.0" stroke="#333333" stroke-width="1.45" fill="none"/>
<rect x="65.0" y="327.90" width="506.0" height="28.10" fill="#D9D9D9"/>
<text class="st" text-anchor="middle" transform="translate(318.00,348.30) scale(1.012,1)" >activated (early)</text>
<rect x="65.0" y="356.00" width="506.0" height="125.60" fill="#EBEBEB"/>
<path d="M105.40,356.00V481.60M199.20,356.00V481.60M293.00,356.00V481.60M386.80,356.00V481.60M480.60,356.00V481.60M65.0,460.60H571.0M65.0,430.00H571.0M65.0,399.40H571.0M65.0,368.80H571.0" stroke="#FFFFFF" stroke-width="0.6" fill="none"/>
<path d="M152.30,356.00V481.60M246.10,356.00V481.60M339.90,356.00V481.60M433.70,356.00V481.60M527.50,356.00V481.60M65.0,475.90H571.0M65.0,445.30H571.0M65.0,414.70H571.0M65.0,384.10H571.0" stroke="#FFFFFF" stroke-width="1.45" fill="none"/>
<path d="M87.4,475.90 L88.4,475.90 L89.4,475.90 L90.4,475.89 L91.4,475.89 L92.4,475.89 L93.4,475.89 L94.4,475.89 L95.4,475.89 L96.4,475.89 L97.4,475.89 L98.4,475.88 L99.4,475.88 L100.4,475.88 L101.4,475.88 L102.4,475.87 L103.4,475.87 L104.4,475.87 L105.4,475.86 L106.4,475.86 L107.4,475.85 L108.4,475.85 L109.4,475.84 L110.4,475.83 L111.4,475.82 L112.4,475.82 L113.4,475.81 L114.4,475.79 L115.4,475.78 L116.4,475.77 L117.4,475.75 L118.4,475.73 L119.4,475.72 L120.4,475.70 L121.4,475.67 L122.4,475.65 L123.4,475.62 L124.4,475.59 L125.4,475.55 L126.4,475.52 L127.4,475.48 L128.4,475.43 L129.4,475.39 L130.4,475.33 L131.4,475.28 L132.4,475.21 L133.4,475.15 L134.4,475.07 L135.4,474.99 L136.4,474.91 L137.4,474.81 L138.4,474.71 L139.4,474.60 L140.4,474.49 L141.4,474.36 L142.4,474.22 L143.4,474.08 L144.4,473.92 L145.4,473.75 L146.4,473.57 L147.4,473.38 L148.4,473.17 L149.4,472.95 L150.4,472.72 L151.4,472.47 L152.4,472.20 L153.4,471.92 L154.4,471.62 L155.4,471.31 L156.4,470.97 L157.4,470.62 L158.4,470.25 L159.4,469.86 L160.4,469.44 L161.4,469.01 L162.4,468.55 L163.4,468.08 L164.4,467.57 L165.4,467.05 L166.4,466.50 L167.4,465.94 L168.4,465.34 L169.4,464.72 L170.4,464.08 L171.4,463.42 L172.4,462.73 L173.4,462.01 L174.4,461.28 L175.4,460.51 L176.4,459.73 L177.4,458.92 L178.4,458.09 L179.4,457.24 L180.4,456.37 L181.4,455.48 L182.4,454.57 L183.4,453.64 L184.4,452.69 L185.4,451.72 L186.4,450.74 L187.4,449.75 L188.4,448.74 L189.4,447.72 L190.4,446.69 L191.4,445.65 L192.4,444.60 L193.4,443.55 L194.4,442.49 L195.4,441.43 L196.4,440.36 L197.4,439.30 L198.4,438.23 L199.4,437.17 L200.4,436.11 L201.4,435.05 L202.4,434.00 L203.4,432.96 L204.4,431.92 L205.4,430.90 L206.4,429.88 L207.4,428.87 L208.4,427.88 L209.4,426.89 L210.4,425.92 L211.4,424.96 L212.4,424.01 L213.4,423.08 L214.4,422.16 L215.4,421.25 L216.4,420.35 L217.4,419.47 L218.4,418.60 L219.4,417.75 L220.4,416.91 L221.4,416.08 L222.4,415.26 L223.4,414.45 L224.4,413.66 L225.4,412.88 L226.4,412.11 L227.4,411.35 L228.4,410.60 L229.4,409.87 L230.4,409.15 L231.4,408.44 L232.4,407.74 L233.4,407.06 L234.4,406.39 L235.4,405.74 L236.4,405.10 L237.4,404.47 L238.4,403.87 L239.4,403.28 L240.4,402.71 L241.4,402.15 L242.4,401.62 L243.4,401.11 L244.4,400.62 L245.4,400.15 L246.4,399.71 L247.4,399.29 L248.4,398.89 L249.4,398.52 L250.4,398.18 L251.4,397.86 L252.4,397.57 L253.4,397.30 L254.4,397.07 L255.4,396.86 L256.4,396.67 L257.4,396.52 L258.4,396.39 L259.4,396.29 L260.4,396.22 L261.4,396.17 L262.4,396.15 L263.4,396.16 L264.4,396.20 L265.4,396.26 L266.4,396.35 L267.4,396.46 L268.4,396.60 L269.4,396.77 L270.4,396.96 L271.4,397.19 L272.4,397.44 L273.4,397.72 L274.4,398.02 L275.4,398.36 L276.4,398.72 L277.4,399.12 L278.4,399.55 L279.4,400.00 L280.4,400.50 L281.4,401.02 L282.4,401.58 L283.4,402.17 L284.4,402.79 L285.4,403.46 L286.4,404.15 L287.4,404.88 L288.4,405.65 L289.4,406.45 L290.4,407.29 L291.4,408.16 L292.4,409.07 L293.4,410.01 L294.4,410.98 L295.4,411.99 L296.4,413.02 L297.4,414.08 L298.4,415.17 L299.4,416.28 L300.4,417.42 L301.4,418.58 L302.4,419.75 L303.4,420.95 L304.4,422.15 L305.4,423.37 L306.4,424.60 L307.4,425.84 L308.4,427.08 L309.4,428.32 L310.4,429.56 L311.4,430.80 L312.4,432.03 L313.4,433.26 L314.4,434.47 L315.4,435.68 L316.4,436.86 L317.4,438.04 L318.4,439.19 L319.4,440.33 L320.4,441.44 L321.4,442.53 L322.4,443.60 L323.4,444.65 L324.4,445.66 L325.4,446.66 L326.4,447.62 L327.4,448.56 L328.4,449.47 L329.4,450.35 L330.4,451.21 L331.4,452.04 L332.4,452.84 L333.4,453.61 L334.4,454.36 L335.4,455.08 L336.4,455.77 L337.4,456.44 L338.4,457.09 L339.4,457.71 L340.4,458.31 L341.4,458.89 L342.4,459.44 L343.4,459.98 L344.4,460.49 L345.4,460.99 L346.4,461.47 L347.4,461.94 L348.4,462.39 L349.4,462.82 L350.4,463.24 L351.4,463.64 L352.4,464.04 L353.4,464.42 L354.4,464.79 L355.4,465.15 L356.4,465.50 L357.4,465.84 L358.4,466.17 L359.4,466.49 L360.4,466.80 L361.4,467.11 L362.4,467.41 L363.4,467.70 L364.4,467.98 L365.4,468.26 L366.4,468.53 L367.4,468.80 L368.4,469.06 L369.4,469.31 L370.4,469.56 L371.4,469.80 L372.4,470.04 L373.4,470.27 L374.4,470.50 L375.4,470.72 L376.4,470.93 L377.4,471.14 L378.4,471.35 L379.4,471.55 L380.4,471.74 L381.4,471.93 L382.4,472.11 L383.4,472.29 L384.4,472.46 L385.4,472.62 L386.4,472.78 L387.4,472.94 L388.4,473.09 L389.4,473.24 L390.4,473.37 L391.4,473.51 L392.4,473.64 L393.4,473.76 L394.4,473.88 L395.4,474.00 L396.4,474.11 L397.4,474.21 L398.4,474.31 L399.4,474.41 L400.4,474.50 L401.4,474.59 L402.4,474.67 L403.4,474.75 L404.4,474.82 L405.4,474.89 L406.4,474.96 L407.4,475.02 L408.4,475.08 L409.4,475.14 L410.4,475.19 L411.4,475.24 L412.4,475.29 L413.4,475.34 L414.4,475.38 L415.4,475.42 L416.4,475.45 L417.4,475.49 L418.4,475.52 L419.4,475.55 L420.4,475.58 L421.4,475.60 L422.4,475.63 L423.4,475.65 L424.4,475.67 L425.4,475.69 L426.4,475.71 L427.4,475.72 L428.4,475.74 L429.4,475.75 L430.4,475.77 L431.4,475.78 L432.4,475.79 L433.4,475.80 L434.4,475.81 L435.4,475.82 L436.4,475.82 L437.4,475.83 L438.4,475.84 L439.4,475.84 L440.4,475.85 L441.4,475.85 L442.4,475.86 L443.4,475.86 L444.4,475.87 L445.4,475.87 L446.4,475.87 L447.4,475.88 L448.4,475.88 L449.4,475.88 L450.4,475.88 L451.4,475.88 L452.4,475.89 L453.4,475.89 L454.4,475.89 L455.4,475.89 L456.4,475.89 L457.4,475.89 L458.4,475.89 L459.4,475.89 L460.4,475.89 L461.4,475.90 L462.4,475.90 L463.4,475.90 L464.4,475.90 L465.4,475.90 L466.4,475.90 L467.4,475.90 L468.4,475.90 L469.4,475.90 L470.4,475.90 L471.4,475.90 L472.4,475.90 L473.4,475.90 L474.4,475.90 L475.4,475.90 L476.4,475.90 L477.4,475.90 L478.4,475.90 L479.4,475.90 L480.4,475.90 L481.4,475.90 L482.4,475.90 L483.4,475.90 L484.4,475.90 L485.4,475.90 L486.4,475.90 L487.4,475.90 L488.4,475.90 L489.4,475.90 L490.4,475.90 L491.4,475.90 L492.4,475.90 L493.4,475.90 L494.4,475.90 L495.4,475.90 L496.4,475.90 L497.4,475.90 L498.4,475.90 L499.4,475.90 L500.4,475.90 L501.4,475.90 L502.4,475.90 L503.4,475.90 L504.4,475.90 L505.4,475.90 L506.4,475.90 L507.4,475.90 L508.4,475.90 L509.4,475.90 L510.4,475.90 L511.4,475.90 L512.4,475.90 L513.4,475.90 L514.4,475.90 L515.4,475.90 L516.4,475.90 L517.4,475.90 L518.4,475.90 L519.4,475.90 L520.4,475.90 L521.4,475.90 L522.4,475.90 L523.4,475.90 L524.4,475.90 L525.4,475.90 L526.4,475.90 L527.4,475.90 L528.4,475.90 L529.4,475.90 L530.4,475.90 L531.4,475.90 L532.4,475.90 L533.4,475.90 L534.4,475.90 L535.4,475.90 L536.4,475.90 L537.4,475.90 L538.4,475.90 L539.4,475.90 L540.4,475.90 L541.4,475.90 L542.4,475.90 L543.4,475.90 L544.4,475.90 L545.4,475.90 L546.4,475.90 L547.4,475.90 L548.4,475.90" stroke="#1B9E77" stroke-width="1.7" fill="none" stroke-linejoin="round"/>
<path d="M87.4,475.90 L88.4,475.90 L89.4,475.90 L90.4,475.90 L91.4,475.90 L92.4,475.90 L93.4,475.89 L94.4,475.89 L95.4,475.89 L96.4,475.89 L97.4,475.89 L98.4,475.89 L99.4,475.88 L100.4,475.88 L101.4,475.88 L102.4,475.87 L103.4,475.87 L104.4,475.86 L105.4,475.85 L106.4,475.85 L107.4,475.84 L108.4,475.83 L109.4,475.82 L110.4,475.80 L111.4,475.79 L112.4,475.77 L113.4,475.75 L114.4,475.73 L115.4,475.70 L116.4,475.67 L117.4,475.64 L118.4,475.60 L119.4,475.56 L120.4,475.51 L121.4,475.46 L122.4,475.41 L123.4,475.34 L124.4,475.27 L125.4,475.19 L126.4,475.11 L127.4,475.02 L128.4,474.91 L129.4,474.80 L130.4,474.68 L131.4,474.55 L132.4,474.40 L133.4,474.25 L134.4,474.08 L135.4,473.90 L136.4,473.71 L137.4,473.50 L138.4,473.28 L139.4,473.04 L140.4,472.79 L141.4,472.53 L142.4,472.25 L143.4,471.95 L144.4,471.64 L145.4,471.32 L146.4,470.98 L147.4,470.62 L148.4,470.25 L149.4,469.87 L150.4,469.47 L151.4,469.06 L152.4,468.63 L153.4,468.20 L154.4,467.75 L155.4,467.29 L156.4,466.82 L157.4,466.35 L158.4,465.86 L159.4,465.36 L160.4,464.86 L161.4,464.35 L162.4,463.84 L163.4,463.32 L164.4,462.79 L165.4,462.26 L166.4,461.72 L167.4,461.18 L168.4,460.64 L169.4,460.09 L170.4,459.54 L171.4,458.98 L172.4,458.41 L173.4,457.84 L174.4,457.26 L175.4,456.67 L176.4,456.08 L177.4,455.47 L178.4,454.85 L179.4,454.21 L180.4,453.56 L181.4,452.90 L182.4,452.21 L183.4,451.50 L184.4,450.78 L185.4,450.02 L186.4,449.24 L187.4,448.44 L188.4,447.60 L189.4,446.73 L190.4,445.83 L191.4,444.89 L192.4,443.93 L193.4,442.92 L194.4,441.88 L195.4,440.80 L196.4,439.68 L197.4,438.52 L198.4,437.33 L199.4,436.10 L200.4,434.84 L201.4,433.53 L202.4,432.20 L203.4,430.83 L204.4,429.43 L205.4,428.01 L206.4,426.55 L207.4,425.08 L208.4,423.58 L209.4,422.06 L210.4,420.53 L211.4,418.99 L212.4,417.44 L213.4,415.89 L214.4,414.33 L215.4,412.78 L216.4,411.24 L217.4,409.70 L218.4,408.19 L219.4,406.69 L220.4,405.21 L221.4,403.76 L222.4,402.34 L223.4,400.96 L224.4,399.61 L225.4,398.30 L226.4,397.04 L227.4,395.82 L228.4,394.66 L229.4,393.55 L230.4,392.49 L231.4,391.49 L232.4,390.54 L233.4,389.66 L234.4,388.85 L235.4,388.09 L236.4,387.40 L237.4,386.78 L238.4,386.22 L239.4,385.73 L240.4,385.30 L241.4,384.94 L242.4,384.65 L243.4,384.42 L244.4,384.26 L245.4,384.16 L246.4,384.13 L247.4,384.15 L248.4,384.24 L249.4,384.39 L250.4,384.59 L251.4,384.85 L252.4,385.16 L253.4,385.52 L254.4,385.94 L255.4,386.40 L256.4,386.91 L257.4,387.47 L258.4,388.06 L259.4,388.70 L260.4,389.38 L261.4,390.09 L262.4,390.84 L263.4,391.62 L264.4,392.44 L265.4,393.28 L266.4,394.16 L267.4,395.06 L268.4,395.98 L269.4,396.93 L270.4,397.90 L271.4,398.89 L272.4,399.91 L273.4,400.94 L274.4,401.99 L275.4,403.06 L276.4,404.14 L277.4,405.24 L278.4,406.35 L279.4,407.47 L280.4,408.60 L281.4,409.75 L282.4,410.91 L283.4,412.07 L284.4,413.25 L285.4,414.43 L286.4,415.62 L287.4,416.82 L288.4,418.02 L289.4,419.22 L290.4,420.43 L291.4,421.65 L292.4,422.86 L293.4,424.08 L294.4,425.29 L295.4,426.50 L296.4,427.72 L297.4,428.93 L298.4,430.13 L299.4,431.33 L300.4,432.53 L301.4,433.71 L302.4,434.89 L303.4,436.07 L304.4,437.23 L305.4,438.37 L306.4,439.51 L307.4,440.64 L308.4,441.74 L309.4,442.84 L310.4,443.92 L311.4,444.98 L312.4,446.02 L313.4,447.04 L314.4,448.05 L315.4,449.03 L316.4,449.99 L317.4,450.93 L318.4,451.85 L319.4,452.75 L320.4,453.62 L321.4,454.47 L322.4,455.29 L323.4,456.09 L324.4,456.87 L325.4,457.61 L326.4,458.34 L327.4,459.04 L328.4,459.71 L329.4,460.36 L330.4,460.99 L331.4,461.59 L332.4,462.17 L333.4,462.72 L334.4,463.25 L335.4,463.76 L336.4,464.24 L337.4,464.70 L338.4,465.14 L339.4,465.56 L340.4,465.96 L341.4,466.34 L342.4,466.70 L343.4,467.05 L344.4,467.37 L345.4,467.68 L346.4,467.98 L347.4,468.25 L348.4,468.52 L349.4,468.77 L350.4,469.01 L351.4,469.23 L352.4,469.45 L353.4,469.65 L354.4,469.84 L355.4,470.03 L356.4,470.20 L357.4,470.37 L358.4,470.53 L359.4,470.68 L360.4,470.83 L361.4,470.97 L362.4,471.11 L363.4,471.24 L364.4,471.37 L365.4,471.49 L366.4,471.61 L367.4,471.72 L368.4,471.84 L369.4,471.95 L370.4,472.06 L371.4,472.16 L372.4,472.27 L373.4,472.37 L374.4,472.47 L375.4,472.57 L376.4,472.67 L377.4,472.77 L378.4,472.86 L379.4,472.96 L380.4,473.05 L381.4,473.14 L382.4,473.23 L383.4,473.32 L384.4,473.41 L385.4,473.50 L386.4,473.59 L387.4,473.67 L388.4,473.76 L389.4,473.84 L390.4,473.92 L391.4,474.00 L392.4,474.08 L393.4,474.16 L394.4,474.24 L395.4,474.31 L396.4,474.38 L397.4,474.45 L398.4,474.52 L399.4,474.59 L400.4,474.65 L401.4,474.72 L402.4,474.78 L403.4,474.84 L404.4,474.89 L405.4,474.95 L406.4,475.00 L407.4,475.05 L408.4,475.10 L409.4,475.15 L410.4,475.19 L411.4,475.24 L412.4,475.28 L413.4,475.32 L414.4,475.36 L415.4,475.39 L416.4,475.42 L417.4,475.46 L418.4,475.49 L419.4,475.52 L420.4,475.54 L421.4,475.57 L422.4,475.59 L423.4,475.62 L424.4,475.64 L425.4,475.66 L426.4,475.68 L427.4,475.69 L428.4,475.71 L429.4,475.73 L430.4,475.74 L431.4,475.75 L432.4,475.77 L433.4,475.78 L434.4,475.79 L435.4,475.80 L436.4,475.81 L437.4,475.82 L438.4,475.82 L439.4,475.83 L440.4,475.84 L441.4,475.84 L442.4,475.85 L443.4,475.85 L444.4,475.86 L445.4,475.86 L446.4,475.87 L447.4,475.87 L448.4,475.87 L449.4,475.87 L450.4,475.88 L451.4,475.88 L452.4,475.88 L453.4,475.88 L454.4,475.89 L455.4,475.89 L456.4,475.89 L457.4,475.89 L458.4,475.89 L459.4,475.89 L460.4,475.89 L461.4,475.89 L462.4,475.89 L463.4,475.90 L464.4,475.90 L465.4,475.90 L466.4,475.90 L467.4,475.90 L468.4,475.90 L469.4,475.90 L470.4,475.90 L471.4,475.90 L472.4,475.90 L473.4,475.90 L474.4,475.90 L475.4,475.90 L476.4,475.90 L477.4,475.90 L478.4,475.90 L479.4,475.90 L480.4,475.90 L481.4,475.90 L482.4,475.90 L483.4,475.90 L484.4,475.90 L485.4,475.90 L486.4,475.90 L487.4,475.90 L488.4,475.90 L489.4,475.90 L490.4,475.90 L491.4,475.90 L492.4,475.90 L493.4,475.90 L494.4,475.90 L495.4,475.90 L496.4,475.90 L497.4,475.90 L498.4,475.90 L499.4,475.90 L500.4,475.90 L501.4,475.90 L502.4,475.90 L503.4,475.90 L504.4,475.90 L505.4,475.90 L506.4,475.90 L507.4,475.90 L508.4,475.90 L509.4,475.90 L510.4,475.90 L511.4,475.90 L512.4,475.90 L513.4,475.90 L514.4,475.90 L515.4,475.90 L516.4,475.90 L517.4,475.90 L518.4,475.90 L519.4,475.90 L520.4,475.90 L521.4,475.90 L522.4,475.90 L523.4,475.90 L524.4,475.90 L525.4,475.90 L526.4,475.90 L527.4,475.90 L528.4,475.90 L529.4,475.90 L530.4,475.90 L531.4,475.90 L532.4,475.90 L533.4,475.90 L534.4,475.90 L535.4,475.90 L536.4,475.90 L537.4,475.90 L538.4,475.90 L539.4,475.90 L540.4,475.90 L541.4,475.90 L542.4,475.90 L543.4,475.90 L544.4,475.90 L545.4,475.90 L546.4,475.90 L547.4,475.90 L548.4,475.90" stroke="#D95F02" stroke-width="1.7" fill="none" stroke-linejoin="round"/>
<path d="M254.40,356.00V481.60" stroke="#1B9E77" stroke-width="1.7" fill="none"/>
<path d="M244.90,356.00V481.60" stroke="#D95F02" stroke-width="1.7" fill="none"/>
<text class="ax" text-anchor="end" transform="translate(57.20,481.95) scale(1.065,1)" >0.0</text>
<text class="ax" text-anchor="end" transform="translate(57.20,451.35) scale(1.065,1)" >0.3</text>
<text class="ax" text-anchor="end" transform="translate(57.20,420.75) scale(1.065,1)" >0.6</text>
<text class="ax" text-anchor="end" transform="translate(57.20,390.15) scale(1.065,1)" >0.9</text>
<path d="M61.10,475.90H65.0M61.10,445.30H65.0M61.10,414.70H65.0M61.10,384.10H65.0" stroke="#333333" stroke-width="1.45" fill="none"/>
<rect x="65.0" y="489.30" width="506.0" height="28.10" fill="#D9D9D9"/>
<text class="st" text-anchor="middle" transform="translate(318.00,509.70) scale(1.012,1)" >activated (late)</text>
<rect x="65.0" y="517.40" width="506.0" height="125.60" fill="#EBEBEB"/>
<path d="M105.40,517.40V643.00M199.20,517.40V643.00M293.00,517.40V643.00M386.80,517.40V643.00M480.60,517.40V643.00M65.0,622.00H571.0M65.0,591.40H571.0M65.0,560.80H571.0M65.0,530.20H571.0" stroke="#FFFFFF" stroke-width="0.6" fill="none"/>
<path d="M152.30,517.40V643.00M246.10,517.40V643.00M339.90,517.40V643.00M433.70,517.40V643.00M527.50,517.40V643.00M65.0,637.30H571.0M65.0,606.70H571.0M65.0,576.10H571.0M65.0,545.50H571.0" stroke="#FFFFFF" stroke-width="1.45" fill="none"/>
<path d="M87.4,637.25 L88.4,637.24 L89.4,637.24 L90.4,637.23 L91.4,637.23 L92.4,637.22 L93.4,637.21 L94.4,637.20 L95.4,637.20 L96.4,637.19 L97.4,637.18 L98.4,637.16 L99.4,637.15 L100.4,637.14 L101.4,637.12 L102.4,637.11 L103.4,637.09 L104.4,637.07 L105.4,637.05 L106.4,637.02 L107.4,637.00 L108.4,636.97 L109.4,636.94 L110.4,636.90 L111.4,636.86 L112.4,636.82 L113.4,636.78 L114.4,636.73 L115.4,636.67 L116.4,636.61 L117.4,636.55 L118.4,636.48 L119.4,636.40 L120.4,636.31 L121.4,636.22 L122.4,636.12 L123.4,636.01 L124.4,635.89 L125.4,635.75 L126.4,635.61 L127.4,635.45 L128.4,635.28 L129.4,635.10 L130.4,634.89 L131.4,634.68 L132.4,634.44 L133.4,634.19 L134.4,633.92 L135.4,633.62 L136.4,633.31 L137.4,632.97 L138.4,632.61 L139.4,632.22 L140.4,631.81 L141.4,631.38 L142.4,630.91 L143.4,630.42 L144.4,629.90 L145.4,629.36 L146.4,628.79 L147.4,628.18 L148.4,627.55 L149.4,626.89 L150.4,626.21 L151.4,625.49 L152.4,624.75 L153.4,623.98 L154.4,623.19 L155.4,622.37 L156.4,621.52 L157.4,620.65 L158.4,619.76 L159.4,618.85 L160.4,617.92 L161.4,616.96 L162.4,615.99 L163.4,615.00 L164.4,613.99 L165.4,612.96 L166.4,611.92 L167.4,610.86 L168.4,609.79 L169.4,608.70 L170.4,607.60 L171.4,606.48 L172.4,605.35 L173.4,604.20 L174.4,603.04 L175.4,601.87 L176.4,600.68 L177.4,599.47 L178.4,598.25 L179.4,597.01 L180.4,595.76 L181.4,594.49 L182.4,593.21 L183.4,591.92 L184.4,590.60 L185.4,589.28 L186.4,587.94 L187.4,586.59 L188.4,585.23 L189.4,583.85 L190.4,582.47 L191.4,581.08 L192.4,579.68 L193.4,578.28 L194.4,576.88 L195.4,575.48 L196.4,574.08 L197.4,572.68 L198.4,571.29 L199.4,569.91 L200.4,568.55 L201.4,567.20 L202.4,565.86 L203.4,564.55 L204.4,563.26 L205.4,562.00 L206.4,560.76 L207.4,559.56 L208.4,558.38 L209.4,557.25 L210.4,556.14 L211.4,555.08 L212.4,554.06 L213.4,553.07 L214.4,552.13 L215.4,551.24 L216.4,550.38 L217.4,549.57 L218.4,548.81 L219.4,548.09 L220.4,547.42 L221.4,546.79 L222.4,546.21 L223.4,545.68 L224.4,545.18 L225.4,544.74 L226.4,544.33 L227.4,543.97 L228.4,543.65 L229.4,543.38 L230.4,543.14 L231.4,542.95 L232.4,542.80 L233.4,542.69 L234.4,542.62 L235.4,542.60 L236.4,542.62 L237.4,542.68 L238.4,542.78 L239.4,542.93 L240.4,543.13 L241.4,543.37 L242.4,543.66 L243.4,544.01 L244.4,544.40 L245.4,544.86 L246.4,545.36 L247.4,545.93 L248.4,546.56 L249.4,547.24 L250.4,548.00 L251.4,548.81 L252.4,549.70 L253.4,550.65 L254.4,551.67 L255.4,552.76 L256.4,553.91 L257.4,555.13 L258.4,556.43 L259.4,557.78 L260.4,559.20 L261.4,560.68 L262.4,562.23 L263.4,563.82 L264.4,565.47 L265.4,567.17 L266.4,568.92 L267.4,570.70 L268.4,572.51 L269.4,574.36 L270.4,576.23 L271.4,578.12 L272.4,580.02 L273.4,581.93 L274.4,583.84 L275.4,585.74 L276.4,587.64 L277.4,589.52 L278.4,591.38 L279.4,593.21 L280.4,595.01 L281.4,596.78 L282.4,598.51 L283.4,600.20 L284.4,601.84 L285.4,603.44 L286.4,604.98 L287.4,606.47 L288.4,607.91 L289.4,609.29 L290.4,610.62 L291.4,611.89 L292.4,613.10 L293.4,614.26 L294.4,615.36 L295.4,616.41 L296.4,617.40 L297.4,618.34 L298.4,619.23 L299.4,620.07 L300.4,620.86 L301.4,621.60 L302.4,622.31 L303.4,622.97 L304.4,623.58 L305.4,624.17 L306.4,624.71 L307.4,625.22 L308.4,625.70 L309.4,626.15 L310.4,626.57 L311.4,626.97 L312.4,627.34 L313.4,627.69 L314.4,628.02 L315.4,628.33 L316.4,628.62 L317.4,628.89 L318.4,629.15 L319.4,629.39 L320.4,629.62 L321.4,629.84 L322.4,630.05 L323.4,630.25 L324.4,630.43 L325.4,630.61 L326.4,630.78 L327.4,630.95 L328.4,631.10 L329.4,631.26 L330.4,631.40 L331.4,631.54 L332.4,631.68 L333.4,631.81 L334.4,631.93 L335.4,632.06 L336.4,632.17 L337.4,632.29 L338.4,632.40 L339.4,632.51 L340.4,632.62 L341.4,632.73 L342.4,632.83 L343.4,632.93 L344.4,633.03 L345.4,633.12 L346.4,633.22 L347.4,633.31 L348.4,633.40 L349.4,633.49 L350.4,633.58 L351.4,633.67 L352.4,633.75 L353.4,633.83 L354.4,633.92 L355.4,634.00 L356.4,634.08 L357.4,634.15 L358.4,634.23 L359.4,634.31 L360.4,634.38 L361.4,634.46 L362.4,634.53 L363.4,634.60 L364.4,634.67 L365.4,634.74 L366.4,634.80 L367.4,634.87 L368.4,634.94 L369.4,635.00 L370.4,635.06 L371.4,635.12 L372.4,635.19 L373.4,635.24 L374.4,635.30 L375.4,635.36 L376.4,635.42 L377.4,635.47 L378.4,635.53 L379.4,635.58 L380.4,635.63 L381.4,635.68 L382.4,635.73 L383.4,635.78 L384.4,635.83 L385.4,635.87 L386.4,635.92 L387.4,635.96 L388.4,636.01 L389.4,636.05 L390.4,636.09 L391.4,636.13 L392.4,636.17 L393.4,636.21 L394.4,636.24 L395.4,636.28 L396.4,636.32 L397.4,636.35 L398.4,636.38 L399.4,636.42 L400.4,636.45 L401.4,636.48 L402.4,636.51 L403.4,636.54 L404.4,636.57 L405.4,636.59 L406.4,636.62 L407.4,636.65 L408.4,636.67 L409.4,636.69 L410.4,636.72 L411.4,636.74 L412.4,636.76 L413.4,636.78 L414.4,636.80 L415.4,636.82 L416.4,636.84 L417.4,636.86 L418.4,636.88 L419.4,636.90 L420.4,636.91 L421.4,636.93 L422.4,636.95 L423.4,636.96 L424.4,636.98 L425.4,636.99 L426.4,637.00 L427.4,637.02 L428.4,637.03 L429.4,637.04 L430.4,637.05 L431.4,637.06 L432.4,637.07 L433.4,637.08 L434.4,637.09 L435.4,637.10 L436.4,637.11 L437.4,637.12 L438.4,637.13 L439.4,637.14 L440.4,637.15 L441.4,637.15 L442.4,637.16 L443.4,637.17 L444.4,637.17 L445.4,637.18 L446.4,637.19 L447.4,637.19 L448.4,637.20 L449.4,637.20 L450.4,637.21 L451.4,637.21 L452.4,637.22 L453.4,637.22 L454.4,637.22 L455.4,637.23 L456.4,637.23 L457.4,637.24 L458.4,637.24 L459.4,637.24 L460.4,637.24 L461.4,637.25 L462.4,637.25 L463.4,637.25 L464.4,637.26 L465.4,637.26 L466.4,637.26 L467.4,637.26 L468.4,637.26 L469.4,637.27 L470.4,637.27 L471.4,637.27 L472.4,637.27 L473.4,637.27 L474.4,637.28 L475.4,637.28 L476.4,637.28 L477.4,637.28 L478.4,637.28 L479.4,637.28 L480.4,637.28 L481.4,637.28 L482.4,637.28 L483.4,637.29 L484.4,637.29 L485.4,637.29 L486.4,637.29 L487.4,637.29 L488.4,637.29 L489.4,637.29 L490.4,637.29 L491.4,637.29 L492.4,637.29 L493.4,637.29 L494.4,637.29 L495.4,637.29 L496.4,637.29 L497.4,637.29 L498.4,637.29 L499.4,637.29 L500.4,637.30 L501.4,637.30 L502.4,637.30 L503.4,637.30 L504.4,637.30 L505.4,637.30 L506.4,637.30 L507.4,637.30 L508.4,637.30 L509.4,637.30 L510.4,637.30 L511.4,637.30 L512.4,637.30 L513.4,637.30 L514.4,637.30 L515.4,637.30 L516.4,637.30 L517.4,637.30 L518.4,637.30 L519.4,637.30 L520.4,637.30 L521.4,637.30 L522.4,637.30 L523.4,637.30 L524.4,637.30 L525.4,637.30 L526.4,637.30 L527.4,637.30 L528.4,637.30 L529.4,637.30 L530.4,637.30 L531.4,637.30 L532.4,637.30 L533.4,637.30 L534.4,637.30 L535.4,637.30 L536.4,637.30 L537.4,637.30 L538.4,637.30 L539.4,637.30 L540.4,637.30 L541.4,637.30 L542.4,637.30 L543.4,637.30 L544.4,637.30 L545.4,637.30 L546.4,637.30 L547.4,637.30 L548.4,637.30" stroke="#1B9E77" stroke-width="1.7" fill="none" stroke-linejoin="round"/>
<path d="M87.4,637.30 L88.4,637.30 L89.4,637.30 L90.4,637.30 L91.4,637.29 L92.4,637.29 L93.4,637.29 L94.4,637.29 L95.4,637.29 L96.4,637.29 L97.4,637.28 L98.4,637.28 L99.4,637.28 L100.4,637.27 L101.4,637.27 L102.4,637.26 L103.4,637.25 L104.4,637.24 L105.4,637.23 L106.4,637.22 L107.4,637.21 L108.4,637.19 L109.4,637.17 L110.4,637.15 L111.4,637.13 L112.4,637.10 L113.4,637.07 L114.4,637.03 L115.4,636.99 L116.4,636.94 L117.4,636.89 L118.4,636.83 L119.4,636.76 L120.4,636.69 L121.4,636.60 L122.4,636.50 L123.4,636.40 L124.4,636.28 L125.4,636.15 L126.4,636.00 L127.4,635.84 L128.4,635.67 L129.4,635.47 L130.4,635.26 L131.4,635.03 L132.4,634.78 L133.4,634.50 L134.4,634.21 L135.4,633.89 L136.4,633.55 L137.4,633.18 L138.4,632.78 L139.4,632.36 L140.4,631.91 L141.4,631.44 L142.4,630.93 L143.4,630.40 L144.4,629.84 L145.4,629.25 L146.4,628.63 L147.4,627.99 L148.4,627.32 L149.4,626.63 L150.4,625.91 L151.4,625.17 L152.4,624.41 L153.4,623.63 L154.4,622.82 L155.4,622.01 L156.4,621.18 L157.4,620.34 L158.4,619.48 L159.4,618.62 L160.4,617.75 L161.4,616.88 L162.4,616.01 L163.4,615.14 L164.4,614.27 L165.4,613.40 L166.4,612.53 L167.4,611.67 L168.4,610.81 L169.4,609.96 L170.4,609.12 L171.4,608.28 L172.4,607.44 L173.4,606.61 L174.4,605.77 L175.4,604.94 L176.4,604.10 L177.4,603.25 L178.4,602.39 L179.4,601.52 L180.4,600.63 L181.4,599.71 L182.4,598.77 L183.4,597.80 L184.4,596.79 L185.4,595.74 L186.4,594.64 L187.4,593.49 L188.4,592.29 L189.4,591.03 L190.4,589.71 L191.4,588.32 L192.4,586.87 L193.4,585.34 L194.4,583.75 L195.4,582.08 L196.4,580.34 L197.4,578.53 L198.4,576.65 L199.4,574.71 L200.4,572.70 L201.4,570.63 L202.4,568.52 L203.4,566.35 L204.4,564.14 L205.4,561.91 L206.4,559.65 L207.4,557.37 L208.4,555.09 L209.4,552.81 L210.4,550.55 L211.4,548.32 L212.4,546.12 L213.4,543.97 L214.4,541.88 L215.4,539.85 L216.4,537.91 L217.4,536.06 L218.4,534.31 L219.4,532.67 L220.4,531.14 L221.4,529.74 L222.4,528.48 L223.4,527.35 L224.4,526.36 L225.4,525.51 L226.4,524.82 L227.4,524.28 L228.4,523.89 L229.4,523.65 L230.4,523.56 L231.4,523.61 L232.4,523.81 L233.4,524.15 L234.4,524.63 L235.4,525.23 L236.4,525.96 L237.4,526.81 L238.4,527.76 L239.4,528.82 L240.4,529.97 L241.4,531.20 L242.4,532.52 L243.4,533.90 L244.4,535.35 L245.4,536.85 L246.4,538.40 L247.4,539.99 L248.4,541.61 L249.4,543.27 L250.4,544.94 L251.4,546.64 L252.4,548.35 L253.4,550.08 L254.4,551.81 L255.4,553.55 L256.4,555.29 L257.4,557.03 L258.4,558.78 L259.4,560.52 L260.4,562.27 L261.4,564.01 L262.4,565.76 L263.4,567.51 L264.4,569.25 L265.4,571.00 L266.4,572.75 L267.4,574.50 L268.4,576.25 L269.4,578.01 L270.4,579.76 L271.4,581.52 L272.4,583.28 L273.4,585.03 L274.4,586.79 L275.4,588.54 L276.4,590.28 L277.4,592.02 L278.4,593.75 L279.4,595.46 L280.4,597.16 L281.4,598.83 L282.4,600.49 L283.4,602.12 L284.4,603.72 L285.4,605.29 L286.4,606.83 L287.4,608.32 L288.4,609.78 L289.4,611.19 L290.4,612.55 L291.4,613.87 L292.4,615.13 L293.4,616.34 L294.4,617.49 L295.4,618.59 L296.4,619.63 L297.4,620.62 L298.4,621.54 L299.4,622.41 L300.4,623.23 L301.4,623.99 L302.4,624.69 L303.4,625.34 L304.4,625.95 L305.4,626.50 L306.4,627.02 L307.4,627.48 L308.4,627.91 L309.4,628.31 L310.4,628.67 L311.4,629.00 L312.4,629.30 L313.4,629.58 L314.4,629.84 L315.4,630.08 L316.4,630.30 L317.4,630.51 L318.4,630.72 L319.4,630.91 L320.4,631.10 L321.4,631.28 L322.4,631.47 L323.4,631.65 L324.4,631.83 L325.4,632.01 L326.4,632.20 L327.4,632.38 L328.4,632.57 L329.4,632.76 L330.4,632.95 L331.4,633.14 L332.4,633.34 L333.4,633.53 L334.4,633.73 L335.4,633.92 L336.4,634.11 L337.4,634.30 L338.4,634.49 L339.4,634.67 L340.4,634.85 L341.4,635.02 L342.4,635.19 L343.4,635.35 L344.4,635.51 L345.4,635.66 L346.4,635.80 L347.4,635.93 L348.4,636.06 L349.4,636.17 L350.4,636.28 L351.4,636.39 L352.4,636.48 L353.4,636.57 L354.4,636.65 L355.4,636.72 L356.4,636.79 L357.4,636.85 L358.4,636.90 L359.4,636.95 L360.4,637.00 L361.4,637.04 L362.4,637.07 L363.4,637.10 L364.4,637.13 L365.4,637.16 L366.4,637.18 L367.4,637.19 L368.4,637.21 L369.4,637.22 L370.4,637.24 L371.4,637.25 L372.4,637.26 L373.4,637.26 L374.4,637.27 L375.4,637.27 L376.4,637.28 L377.4,637.28 L378.4,637.29 L379.4,637.29 L380.4,637.29 L381.4,637.29 L382.4,637.29 L383.4,637.29 L384.4,637.30 L385.4,637.30 L386.4,637.30 L387.4,637.30 L388.4,637.30 L389.4,637.30 L390.4,637.30 L391.4,637.30 L392.4,637.30 L393.4,637.30 L394.4,637.30 L395.4,637.30 L396.4,637.30 L397.4,637.30 L398.4,637.30 L399.4,637.30 L400.4,637.30 L401.4,637.30 L402.4,637.30 L403.4,637.30 L404.4,637.30 L405.4,637.30 L406.4,637.30 L407.4,637.30 L408.4,637.30 L409.4,637.30 L410.4,637.30 L411.4,637.30 L412.4,637.30 L413.4,637.30 L414.4,637.30 L415.4,637.30 L416.4,637.30 L417.4,637.30 L418.4,637.30 L419.4,637.30 L420.4,637.30 L421.4,637.30 L422.4,637.30 L423.4,637.30 L424.4,637.30 L425.4,637.30 L426.4,637.30 L427.4,637.30 L428.4,637.30 L429.4,637.30 L430.4,637.30 L431.4,637.30 L432.4,637.30 L433.4,637.30 L434.4,637.30 L435.4,637.30 L436.4,637.30 L437.4,637.30 L438.4,637.30 L439.4,637.30 L440.4,637.30 L441.4,637.30 L442.4,637.30 L443.4,637.30 L444.4,637.30 L445.4,637.30 L446.4,637.30 L447.4,637.30 L448.4,637.30 L449.4,637.30 L450.4,637.30 L451.4,637.30 L452.4,637.30 L453.4,637.30 L454.4,637.30 L455.4,637.30 L456.4,637.30 L457.4,637.30 L458.4,637.30 L459.4,637.30 L460.4,637.30 L461.4,637.30 L462.4,637.30 L463.4,637.30 L464.4,637.30 L465.4,637.30 L466.4,637.30 L467.4,637.30 L468.4,637.30 L469.4,637.30 L470.4,637.30 L471.4,637.30 L472.4,637.30 L473.4,637.30 L474.4,637.30 L475.4,637.30 L476.4,637.30 L477.4,637.30 L478.4,637.30 L479.4,637.30 L480.4,637.30 L481.4,637.30 L482.4,637.30 L483.4,637.30 L484.4,637.30 L485.4,637.30 L486.4,637.30 L487.4,637.30 L488.4,637.30 L489.4,637.30 L490.4,637.30 L491.4,637.30 L492.4,637.30 L493.4,637.30 L494.4,637.30 L495.4,637.30 L496.4,637.30 L497.4,637.30 L498.4,637.30 L499.4,637.30 L500.4,637.30 L501.4,637.30 L502.4,637.30 L503.4,637.30 L504.4,637.30 L505.4,637.30 L506.4,637.30 L507.4,637.30 L508.4,637.30 L509.4,637.30 L510.4,637.30 L511.4,637.30 L512.4,637.30 L513.4,637.30 L514.4,637.30 L515.4,637.30 L516.4,637.30 L517.4,637.30 L518.4,637.30 L519.4,637.30 L520.4,637.30 L521.4,637.30 L522.4,637.30 L523.4,637.30 L524.4,637.30 L525.4,637.30 L526.4,637.30 L527.4,637.30 L528.4,637.30 L529.4,637.30 L530.4,637.30 L531.4,637.30 L532.4,637.30 L533.4,637.30 L534.4,637.30 L535.4,637.30 L536.4,637.30 L537.4,637.30 L538.4,637.30 L539.4,637.30 L540.4,637.30 L541.4,637.30 L542.4,637.30 L543.4,637.30 L544.4,637.30 L545.4,637.30 L546.4,637.30 L547.4,637.30 L548.4,637.30" stroke="#D95F02" stroke-width="1.7" fill="none" stroke-linejoin="round"/>
<path d="M245.30,517.40V643.00" stroke="#1B9E77" stroke-width="1.7" fill="none"/>
<path d="M229.90,517.40V643.00" stroke="#D95F02" stroke-width="1.7" fill="none"/>
<text class="ax" text-anchor="end" transform="translate(57.20,643.35) scale(1.065,1)" >0.0</text>
<text class="ax" text-anchor="end" transform="translate(57.20,612.75) scale(1.065,1)" >0.3</text>
<text class="ax" text-anchor="end" transform="translate(57.20,582.15) scale(1.065,1)" >0.6</text>
<text class="ax" text-anchor="end" transform="translate(57.20,551.55) scale(1.065,1)" >0.9</text>
<path d="M61.10,637.30H65.0M61.10,606.70H65.0M61.10,576.10H65.0M61.10,545.50H65.0" stroke="#333333" stroke-width="1.45" fill="none"/>
<text class="ax" text-anchor="middle" transform="translate(151.70,662.30) scale(1.065,1)" >7</text>
<text class="ax" text-anchor="middle" transform="translate(245.50,662.30) scale(1.065,1)" >8</text>
<text class="ax" text-anchor="middle" transform="translate(339.30,662.30) scale(1.065,1)" >9</text>
<text class="ax" text-anchor="middle" transform="translate(433.10,662.30) scale(1.065,1)" >10</text>
<text class="ax" text-anchor="middle" transform="translate(526.90,662.30) scale(1.065,1)" >11</text>
<path d="M152.30,643.00v3.9M246.10,643.00v3.9M339.90,643.00v3.9M433.70,643.00v3.9M527.50,643.00v3.9" stroke="#333333" stroke-width="1.45" fill="none"/>
<text class="ti" text-anchor="middle" transform="translate(317.70,686.20) scale(1.035,1)" style="font-size:22.9px">QDS</text>
<text class="ti" text-anchor="middle" transform="translate(22.1,338.5) rotate(-90) scale(1.083,1)">density</text>
<text class="ti" text-anchor="start" transform="translate(594.30,316.80) scale(1.06,1)" >age</text>
<rect x="594.5" y="331.40" width="23.3" height="22.4" fill="#F2F2F2"/>
<rect x="595.25" y="332.15" width="21.8" height="20.9" fill="none" stroke="#1B9E77" stroke-width="1.45"/>
<path d="M606.15,331.40v22.4" stroke="#1B9E77" stroke-width="1.45" fill="none"/>
<text class="lg" text-anchor="start" transform="translate(630.30,349.00) scale(1.045,1)" >old</text>
<rect x="594.5" y="355.25" width="23.3" height="22.4" fill="#F2F2F2"/>
<rect x="595.25" y="356.00" width="21.8" height="20.9" fill="none" stroke="#D95F02" stroke-width="1.45"/>
<path d="M606.15,355.25v22.4" stroke="#D95F02" stroke-width="1.45" fill="none"/>
<text class="lg" text-anchor="start" transform="translate(630.30,372.85) scale(1.045,1)" >young</text>
</svg></body></html>
